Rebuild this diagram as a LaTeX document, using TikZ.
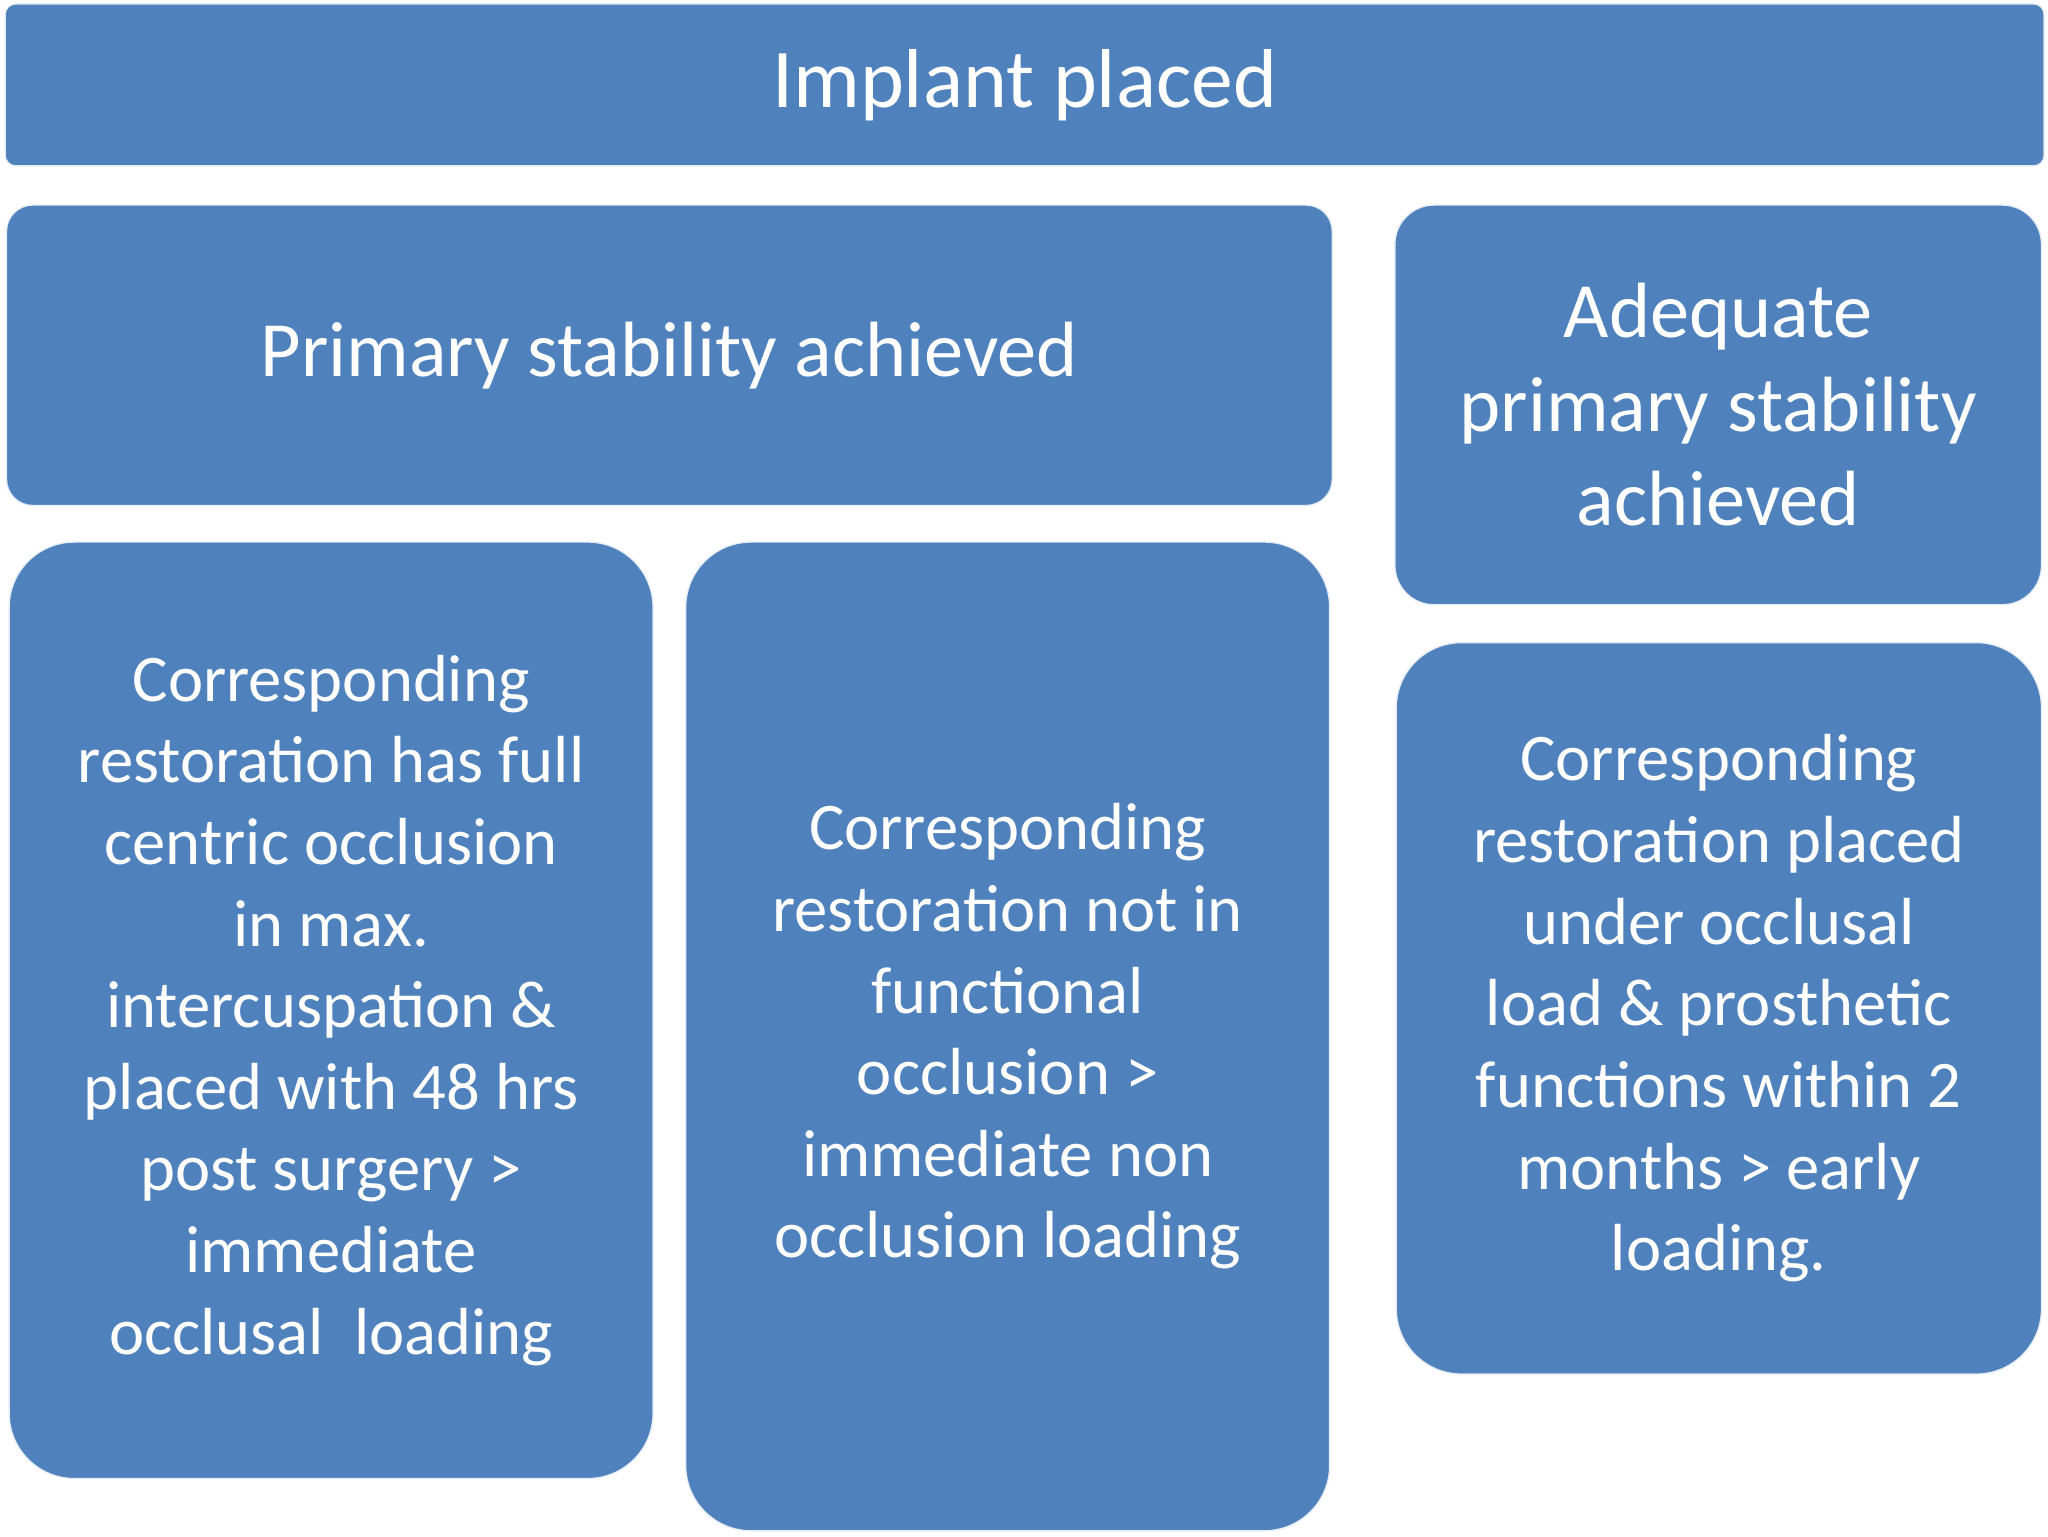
\documentclass[tikz,border=0pt]{standalone}
\usepackage{fontspec}
\setmainfont{Carlito}
\begin{document}
\begin{tikzpicture}[x=1pt,y=-1pt,
  box/.style={fill=blueA,draw=white!85!blueA,line width=1pt,text=white,align=center,inner sep=0pt},
  big/.style={font=\fontsize{60}{72}\selectfont},
  mid/.style={font=\fontsize{51}{62.5}\selectfont}]
\definecolor{blueA}{HTML}{4F81BD}
\useasboundingbox (0,0) rectangle (1568,1176);
\fill[white] (0,0) rectangle (1568,1176);
\node[box,rounded corners=8pt,minimum width=1561pt,minimum height=124pt,font=\fontsize{64}{76}\selectfont] (top) at (784.5,65) {Implant placed};
\node[box,big,rounded corners=20pt,minimum width=1015pt,minimum height=230pt] (ps) at (512.5,272) {Primary stability achieved};
\node[box,big,rounded corners=30pt,minimum width=495pt,minimum height=306pt] (aps) at (1315.5,310) {Adequate\\primary stability\\achieved};
\node[box,mid,rounded corners=50pt,minimum width=493pt,minimum height=717pt] (b1) at (253.5,773.5) {Corresponding\\restoration has full\\centric occlusion\\in max.\\intercuspation \&\\placed with 48 hrs\\post surgery >\\immediate\\occlusal\ \ loading};
\node[box,mid,rounded corners=50pt,minimum width=493pt,minimum height=757pt] (b2) at (771.5,793.5) {Corresponding\\restoration not in\\functional\\occlusion >\\immediate non\\occlusion loading};
\node[box,mid,rounded corners=50pt,minimum width=494pt,minimum height=560pt] (b3) at (1316,772) {Corresponding\\restoration placed\\under occlusal\\load \& prosthetic\\functions within 2\\months > early\\loading.};
\end{tikzpicture}
\end{document}
